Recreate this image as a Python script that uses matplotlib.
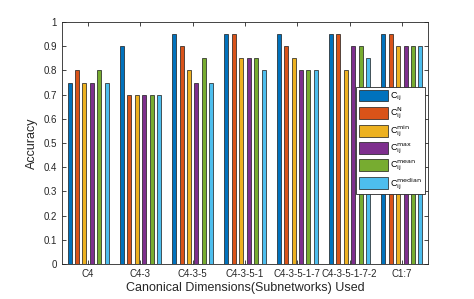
import numpy as np
import matplotlib.pyplot as plt

plt.rcParams['font.family'] = ['Liberation Sans', 'DejaVu Sans']

# data
groups = ['C4', 'C4-3', 'C4-3-5', 'C4-3-5-1', 'C4-3-5-1-7', 'C4-3-5-1-7-2', 'C1:7']
c_ij = [0.75, 0.90, 0.95, 0.95, 0.95, 0.95, 0.95]
c_n = [0.80, 0.70, 0.90, 0.95, 0.90, 0.95, 0.95]
c_min = [0.75, 0.70, 0.80, 0.85, 0.85, 0.80, 0.90]
c_max = [0.75, 0.70, 0.75, 0.85, 0.80, 0.90, 0.90]
c_mean = [0.80, 0.70, 0.85, 0.85, 0.80, 0.90, 0.90]
c_median = [0.75, 0.70, 0.75, 0.80, 0.80, 0.85, 0.90]

series = [c_ij, c_n, c_min, c_max, c_mean, c_median]
labels = [r'C$_{\rm ij}$', r'C$_{\rm ij}^{\rm N}$', r'C$_{\rm ij}^{\rm min}$',
          r'C$_{\rm ij}^{\rm max}$', r'C$_{\rm ij}^{\rm mean}$', r'C$_{\rm ij}^{\rm median}$']
colors = ['#0072BD', '#D95319', '#EDB120', '#7E2F8E', '#77AC30', '#4DBEEE']

fig = plt.figure(figsize=(4.74, 2.99), dpi=100)
ax = fig.add_axes([62/474, 1 - 264/299, 366/474, 242/299])

x = np.arange(1, len(groups) + 1)
step = 0.142
for i, (vals, lab, col) in enumerate(zip(series, labels, colors)):
    ax.bar(x + (i - 2.5) * step, vals, width=0.075, color=col, edgecolor='#1a1a1a',
           linewidth=0.5, label=lab)

ax.set_xlim(0.5, 7.5)
ax.set_ylim(0, 1)
ax.set_yticks(np.arange(0, 1.01, 0.1))
ax.set_yticklabels(['0', '0.1', '0.2', '0.3', '0.4', '0.5', '0.6', '0.7', '0.8', '0.9', '1'])
ax.set_xticks(x)
ax.set_xticklabels(groups)
ax.tick_params(direction='in', top=True, right=True, labelsize=7, length=3,
               width=0.6, colors='#262626')
for s in ax.spines.values():
    s.set_linewidth(0.6)
    s.set_color('#262626')
ax.set_xlabel('Canonical Dimensions(Subnetworks) Used', fontsize=9, color='#262626', labelpad=2)
ax.set_ylabel('Accuracy', fontsize=9, color='#262626', labelpad=4)

leg = ax.legend(loc='upper left', bbox_to_anchor=(294/366, 1 - 65/242), fontsize=6.5,
                handlelength=3.2, handleheight=1.6, labelspacing=0.3, handletextpad=0.3,
                borderpad=0.3, fancybox=False, framealpha=1, edgecolor='#262626',
                borderaxespad=0)
leg.get_frame().set_linewidth(0.6)

fig.savefig('out.png', dpi=100)
